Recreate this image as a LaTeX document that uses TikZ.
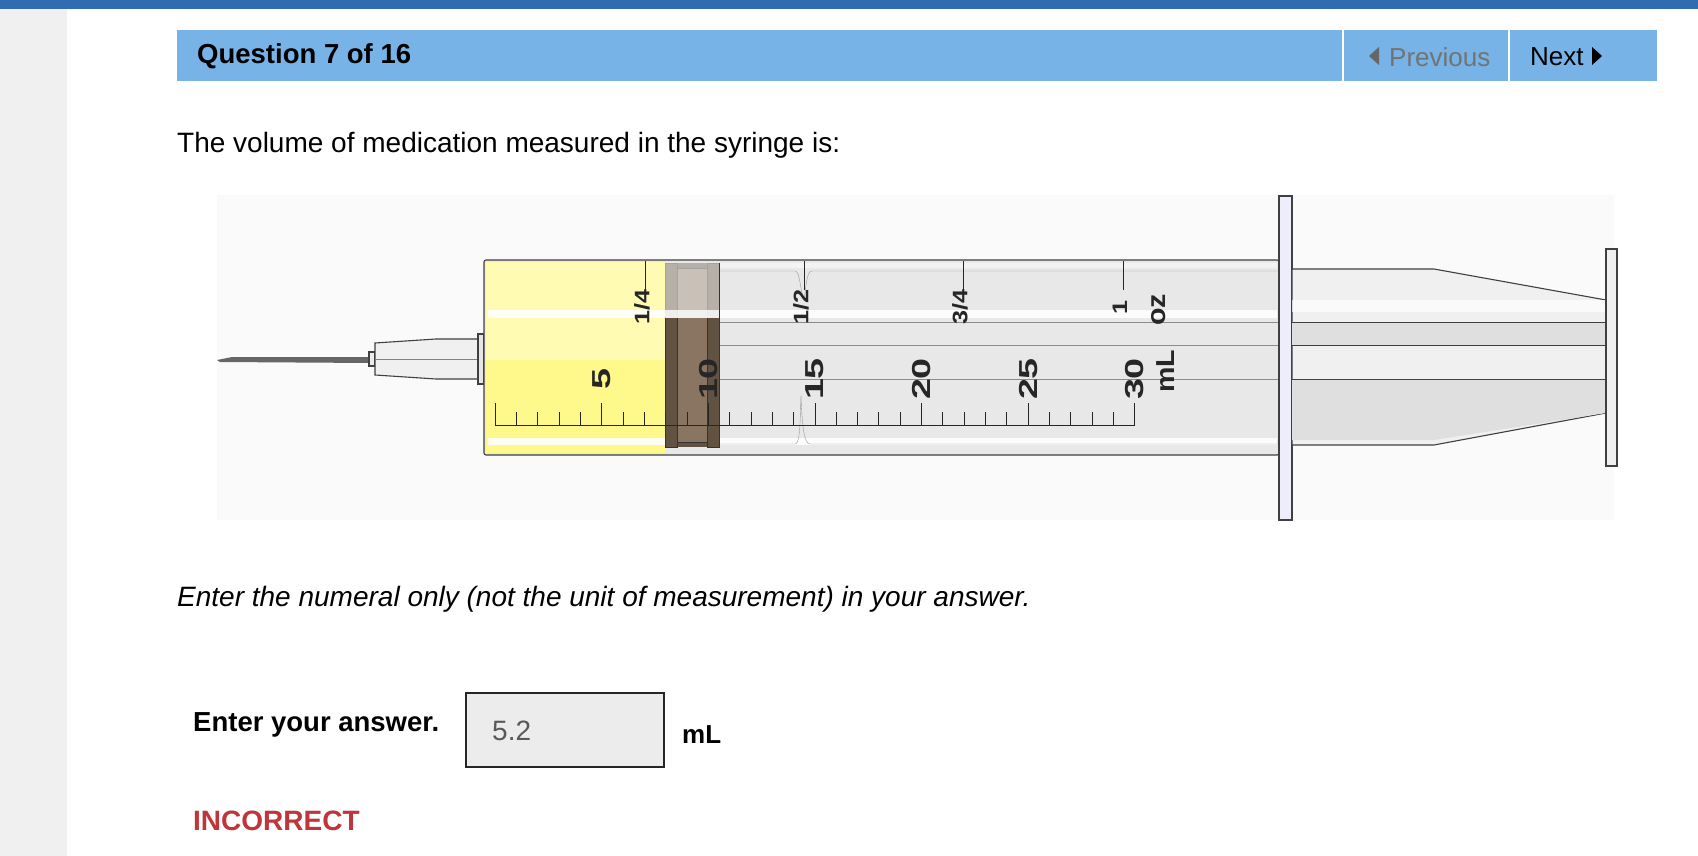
\documentclass[tikz,border=0pt]{standalone}
\usepackage{fontspec}
\setmainfont{Liberation Sans}
\begin{document}
\begin{tikzpicture}[x=1pt,y=-1pt,
  lbl/.style={inner sep=0pt,anchor=west},
  num/.style={inner sep=0pt,rotate=90,font=\fontsize{26}{26}\selectfont\bfseries,text=black!85},
  ozl/.style={inner sep=0pt,rotate=90,font=\fontsize{21}{21}\selectfont\bfseries,text=black!85},
  outl/.style={draw=black!75,line width=1.1pt}]
\useasboundingbox (0,0) rectangle (1698,856);
\fill[white] (0,0) rectangle (1698,856);
\fill[gray!12] (0,0) rectangle (67,856);
\definecolor{hdr}{HTML}{77B3E6}
\definecolor{topb}{HTML}{2F6DB2}
\fill[topb] (0,0) rectangle (1698,9);
% header
\fill[hdr] (177,30) rectangle (1657,81);
\node[lbl,font=\fontsize{27.5}{27.5}\selectfont\bfseries] (q) at (197,56) {Question 7 of 16};
\draw[white,line width=1.5pt] (1343,30) -- (1343,81) (1509,30) -- (1509,81);
\fill[black!60] (1379,47) -- (1379,65) -- (1369,56) -- cycle;
\node[lbl,font=\fontsize{26}{26}\selectfont,text=black!55] (prev) at (1389,57) {Previous};
\node[lbl,font=\fontsize{26}{26}\selectfont,text=black] (next) at (1530,57) {Next};
\fill[black] (1592,47) -- (1592,65) -- (1602,56) -- cycle;
\node[lbl,font=\fontsize{28}{28}\selectfont] (t1) at (177,145) {The volume of medication measured in the syringe is:};
% syringe panel
\fill[gray!4] (217,195) rectangle (1614,520);
% needle
\fill[black!60] (217,360) -- (232,357) -- (372,357) -- (372,363) -- (220,362) -- cycle;
\draw[outl,fill=gray!15] (369,352) rectangle (375,366);
\draw[outl,fill=gray!12] (375,343) -- (436,339) -- (478,339) -- (478,379) -- (436,379) -- (375,375) -- cycle;
\draw[black!50] (375,359) -- (478,359);
\draw[outl,fill=gray!20] (478,334) rectangle (484,384);
% barrel
\draw[outl,fill=gray!18,rounded corners=2pt] (484,260) rectangle (1279,455);
\fill[yellow!30] (486,262) rectangle (665,453);
\fill[yellow!55,opacity=0.6] (486,360) rectangle (665,453);
\fill[white,opacity=0.9] (488,310) rectangle (1277,318);
\fill[white,opacity=0.9] (488,438) rectangle (1277,445);
\fill[white,opacity=0.5] (719,263) rectangle (1277,268);
\draw[black!45] (719,322) -- (1279,322) (719,345) -- (1279,345) (719,379) -- (1279,379);
\draw[black!40] (719,271) -- (795,271) .. controls (800,271) and (800,290) .. (804,300)
   .. controls (806,290) and (806,271) .. (812,271) -- (1279,271);
\draw[black!40] (719,444) -- (795,444) .. controls (800,444) and (800,425) .. (801,395)
   .. controls (802,425) and (804,444) .. (810,444) -- (1279,444);
% stopper
\fill[black!70!brown!80] (665,263) rectangle (719,447);
\fill[black!55!brown!70] (677,268) rectangle (707,442);
\draw[black!80] (665,263) rectangle (677,447) (707,263) rectangle (719,447) (677,268) -- (707,268) (677,442) -- (707,442);
\fill[white,opacity=0.55] (665,263) rectangle (719,310);
\fill[white,opacity=0.9] (665,310) rectangle (719,318);
% ml scale
\draw[black!85,line width=1pt] (495,425) -- (1135,425);
\foreach \i in {0,...,30}{
  \pgfmathsetmacro{\xx}{495+21.33*\i}
  \pgfmathsetmacro{\yy}{mod(\i,5)==0?403:412}
  \draw[black!85,line width=0.9pt] (\xx,425) -- (\xx,\yy);}
\foreach \v in {5,10,15,20,25,30}{
  \pgfmathsetmacro{\xx}{495+21.33*\v}
  \node[num] (n\v) at (\xx,379) {\scalebox{1.45}[1]{\v}};}
% oz scale
\foreach \xx/\t [count=\k] in {645/{1/4},804/{1/2},963/{3/4},1123/1}{
  \draw[black!85,line width=0.9pt] (\xx,261) -- (\xx,290);
  \node[ozl] (oz\k) at (\xx-3,307) {\scalebox{1.2}[1]{\t}};}
\node[num] (ozu) at (1159,310) {\scalebox{1.1}[1]{oz}};
\node[num] (mlu) at (1166,371) {\scalebox{1.1}[1]{mL}};
% flange
\draw[outl,fill=gray!25!blue!8] (1279,196) rectangle (1292,520);
% rod
\draw[outl,fill=gray!12] (1292,269) -- (1434,269) -- (1606,300) -- (1606,413) -- (1434,445) -- (1292,445) -- cycle;
\fill[white,opacity=0.7] (1292,300) rectangle (1606,312);
\fill[gray!25] (1292,322) rectangle (1606,345);
\fill[gray!25] (1292,379) -- (1606,379) -- (1606,413) -- (1434,440) -- (1292,440) -- cycle;
\draw[black!75,line width=1pt] (1292,322) -- (1606,322) (1292,345) -- (1606,345) (1292,379) -- (1606,379);
\draw[outl,fill=gray!12] (1606,249) rectangle (1617,466);
% bottom texts
\node[lbl,font=\fontsize{28}{28}\selectfont\itshape] (t2) at (177,599) {Enter the numeral only (not the unit of measurement) in your answer.};
\node[lbl,font=\fontsize{27.5}{27.5}\selectfont\bfseries] (t3) at (193,725) {Enter your answer.};
\draw[black!85,line width=1.5pt,fill=gray!15] (466,693) rectangle (664,767);
\node[lbl,font=\fontsize{28}{28}\selectfont,text=black!65] (ans) at (492,731) {5.2};
\node[lbl,font=\fontsize{26}{26}\selectfont\bfseries] (ml) at (682,735) {mL};
\definecolor{redx}{HTML}{C0353A}
\node[lbl,font=\fontsize{28}{28}\selectfont\bfseries,text=redx] (inc) at (193,821) {INCORRECT};
\end{tikzpicture}
\end{document}
